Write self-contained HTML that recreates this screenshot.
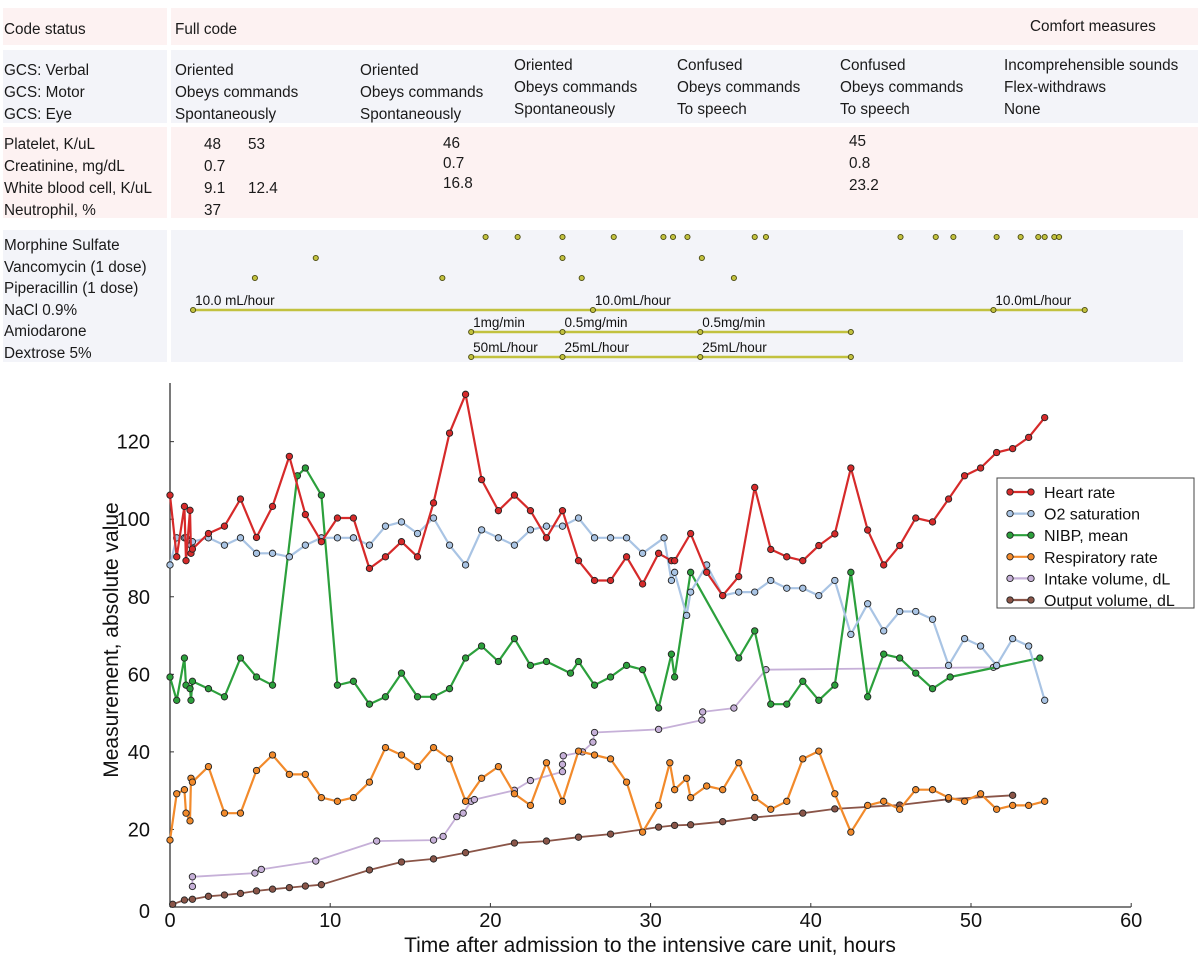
<!DOCTYPE html>
<html><head><meta charset="utf-8"><style>
body{margin:0;background:#fff;font-family:"Liberation Sans",Arial,sans-serif;color:#1a1a1a}
#wrap{position:relative;width:1200px;height:966px;overflow:hidden}
.p{position:absolute}
.t{position:absolute;font-size:15.3px;white-space:nowrap;line-height:22px}
</style></head><body><div id="wrap">
<div class="p" style="left:3px;top:8px;width:164px;height:37px;background:#fdf2f2"></div>
<div class="p" style="left:171px;top:8px;width:1027px;height:37px;background:#fdf2f2"></div>
<div class="p" style="left:3px;top:50px;width:164px;height:73px;background:#f3f4f9"></div>
<div class="p" style="left:171px;top:50px;width:1027px;height:73px;background:#f3f4f9"></div>
<div class="p" style="left:3px;top:127px;width:164px;height:91px;background:#fdf2f2"></div>
<div class="p" style="left:171px;top:127px;width:1027px;height:91px;background:#fdf2f2"></div>
<div class="p" style="left:3px;top:230px;width:164px;height:132px;background:#f3f4f9"></div>
<div class="p" style="left:171px;top:230px;width:1012px;height:132px;background:#f3f4f9"></div>

<div class="t" style="left:4px;top:19px">Code status</div>
<div class="t" style="left:175px;top:19px">Full code</div>
<div class="t" style="left:1030px;top:16px">Comfort measures</div>

<div class="t" style="left:4px;top:60px">GCS: Verbal<br>GCS: Motor<br>GCS: Eye</div>
<div class="t" style="left:175px;top:60px">Oriented<br>Obeys commands<br>Spontaneously</div>
<div class="t" style="left:360px;top:60px">Oriented<br>Obeys commands<br>Spontaneously</div>
<div class="t" style="left:514px;top:55px">Oriented<br>Obeys commands<br>Spontaneously</div>
<div class="t" style="left:677px;top:55px">Confused<br>Obeys commands<br>To speech</div>
<div class="t" style="left:840px;top:55px">Confused<br>Obeys commands<br>To speech</div>
<div class="t" style="left:1004px;top:55px">Incomprehensible sounds<br>Flex-withdraws<br>None</div>

<div class="t" style="left:4px;top:134px">Platelet, K/uL<br>Creatinine, mg/dL<br>White blood cell, K/uL<br>Neutrophil, %</div>
<div class="t" style="left:204px;top:134px">48<br>0.7<br>9.1<br>37</div>
<div class="t" style="left:248px;top:134px">53<br><br>12.4</div>
<div class="t" style="left:443px;top:134px;line-height:20px">46<br>0.7<br>16.8</div>
<div class="t" style="left:849px;top:131px">45<br>0.8<br>23.2</div>

<div class="t" style="left:4px;top:235px;line-height:21.5px">Morphine Sulfate<br>Vancomycin (1 dose)<br>Piperacillin (1 dose)<br>NaCl 0.9%<br>Amiodarone<br>Dextrose 5%</div>

<svg id="chart" class="p" style="left:0;top:0" width="1200" height="966"></svg>
</div>
<script>
const hrX=[0,0.42,0.9,1.0,1.25,1.31,1.4,2.4,3.4,4.4,5.4,6.4,7.45,8.45,9.45,10.45,11.45,12.45,13.45,14.45,15.45,16.45,17.45,18.45,19.45,20.5,21.5,22.5,23.5,24.5,25.5,26.5,27.5,28.5,29.5,30.5,31.3,31.5,32.5,33.5,34.5,35.5,36.5,37.5,38.5,39.5,40.5,41.5,42.5,43.55,44.55,45.55,46.55,47.6,48.6,49.6,50.6,51.6,52.6,53.6,54.6];
const hrY=[106.2,90.3,103.3,89.3,102.3,91.2,92.3,96.3,98.2,105.2,95.3,103.3,116.2,101.2,94.2,100.3,100.3,87.3,90.3,94.2,90.3,104.2,122.2,132.2,110.2,102.2,106.2,102.2,95.2,102.2,89.3,84.2,84.2,90.3,83.3,91.2,89.3,89.3,96.3,86.3,80.3,85.2,108.2,92.2,90.3,89.3,93.2,96.2,113.2,97.2,88.2,93.2,100.3,99.3,105.2,111.2,113.2,117.2,118.2,121.1,126.2];
const o2X=[0,0.42,0.9,1.0,1.25,1.31,1.4,2.4,3.4,4.4,5.4,6.4,7.45,8.45,9.45,10.45,11.45,12.45,13.45,14.45,15.45,16.45,17.45,18.45,19.45,20.5,21.5,22.5,23.5,24.5,25.5,26.5,27.5,28.5,29.5,30.84,31.3,31.5,32.25,32.5,33.5,34.5,35.5,36.5,37.5,38.5,39.5,40.5,41.5,42.5,43.55,44.55,45.55,46.55,47.6,48.6,49.6,50.6,51.6,52.6,53.6,54.6];
const o2Y=[88.2,95.2,95.2,95.2,94.2,93.3,94.2,95.2,93.3,95.2,91.2,91.2,90.3,93.3,95.2,95.2,95.2,93.3,98.2,99.3,96.3,100.3,93.3,88.2,97.25,95.2,93.3,97.25,98.2,98.2,100.3,95.2,95.2,95.2,91.2,95.2,84.2,86.3,75.2,81.2,88.2,80.3,81.2,81.2,84.2,82.2,82.2,80.3,84.2,70.3,78.2,71.2,76.2,76.2,74.2,62.3,69.2,67.3,62.3,69.2,67.3,53.3];
const bpX=[0,0.42,0.9,1.0,1.25,1.31,1.4,2.4,3.4,4.4,5.4,6.4,7.95,8.45,9.45,10.45,11.45,12.45,13.45,14.45,15.45,16.45,17.45,18.45,19.45,20.5,21.5,22.5,23.5,25,25.5,26.5,27.5,28.5,29.5,30.5,31.3,31.5,32.5,35.5,36.5,37.5,38.5,39.5,40.5,41.5,42.5,43.55,44.55,45.55,46.55,47.6,48.7,54.3];
const bpY=[59.3,53.3,64.2,57.2,56.3,53.3,58.2,56.3,54.2,64.2,59.3,57.2,111.2,113.2,106.2,57.2,58.2,52.3,54.2,60.3,54.2,54.2,56.3,64.2,67.3,63.3,69.2,62.3,63.3,60.3,63.3,57.2,59.3,62.3,61.2,51.3,65.2,59.3,86.3,64.2,71.2,52.3,52.3,58.2,53.3,57.2,86.3,54.2,65.2,64.2,60.3,56.3,59.3,64.2];
const rrX=[0,0.42,0.9,1.0,1.25,1.31,1.4,2.4,3.4,4.4,5.4,6.4,7.45,8.45,9.45,10.45,11.45,12.45,13.45,14.45,15.45,16.45,17.45,18.45,19.45,20.5,21.5,22.5,23.5,24.5,25.5,26.5,27.5,28.5,29.5,30.5,31.2,31.5,32.25,32.5,33.5,34.5,35.5,36.5,37.5,38.5,39.5,40.5,41.5,42.5,43.55,44.55,45.55,46.55,47.6,48.6,49.6,50.6,51.6,52.6,53.6,54.6];
const rrY=[17.25,29.2,30.25,24.2,22.2,33.2,32.2,36.2,24.2,24.2,35.2,39.2,34.2,34.2,28.2,27.25,28.2,32.2,41.1,39.2,36.2,41.1,38.2,27.25,33.2,36.2,29.2,26.2,37.2,27.25,40.2,39.2,38.2,32.2,19.3,26.2,37.2,30.25,33.2,28.2,31.2,30.25,37.2,28.2,25.2,27.25,38.2,40.2,29.2,19.3,26.2,27.25,25.2,30.25,30.25,28.2,27.25,29.2,25.2,26.2,26.2,27.25];
const inX=[1.4,1.4,5.3,5.7,9.1,12.9,16.45,17.05,17.9,18.3,18.8,19.0,21.5,22.5,24.5,24.5,24.55,25.75,26.4,26.5,30.5,33.2,33.25,35.2,37.2,51.4,51.6];
const inY=[5.3,7.8,8.75,9.7,11.85,17.0,17.25,18.2,23.3,24.2,27.25,27.7,30.1,32.6,34.9,36.8,39.0,40.0,42.5,45.0,45.8,48.2,50.3,51.3,61.2,61.8,62.2];
const outX=[0.17,0.9,1.4,2.4,3.4,4.4,5.4,6.4,7.45,8.45,9.45,12.45,14.45,16.45,18.45,21.5,23.5,25.5,27.5,30.5,31.5,32.5,34.5,36.5,39.5,41.5,45.55,48.6,52.6];
const outY=[0.7,1.8,2.0,2.75,3.1,3.5,4.15,4.6,5.0,5.4,5.75,9.55,11.6,12.4,14.0,16.5,17.0,18.0,18.8,20.6,21.05,21.2,22.0,23.1,24.2,25.3,26.3,27.8,28.8];
const seriesNames=["Heart rate","O2 saturation","NIBP, mean","Respiratory rate","Intake volume, dL","Output volume, dL"];
const xTicks=[0,10,20,30,40,50,60];
const yTicks=[0,20,40,60,80,100,120];
const morphineT=[19.7,21.7,24.5,27.7,30.8,31.4,32.3,36.5,37.2,45.6,47.8,48.9,51.6,53.1,54.2,54.6,55.2,55.5];
const vancoT=[9.1,24.5,33.2];
const piperaT=[5.3,17.0,25.7,35.2];
const naclT=[1.44,26.4,51.4,57.1];
const naclLabels=["10.0 mL/hour","10.0mL/hour","10.0mL/hour"];
const amioT=[18.8,24.5,33.1,42.5];
const amioLabels=["1mg/min","0.5mg/min","0.5mg/min"];
const dexT=[18.8,24.5,33.1,42.5];
const dexLabels=["50mL/hour","25mL/hour","25mL/hour"];

const NS="http://www.w3.org/2000/svg";
const svg=document.getElementById('chart');
const X0=170,XS=16.02,Y0=907,YS=3.878;
const sx=v=>X0+v*XS, sy=v=>Y0-v*YS;
function mk(tag,attrs,parent){const e=document.createElementNS(NS,tag);for(const k in attrs)e.setAttribute(k,attrs[k]);(parent||svg).appendChild(e);return e;}
function txt(s,attrs){const e=mk('text',attrs);e.textContent=s;return e;}

let a=mk('line',{x1:X0,y1:383,x2:X0,y2:Y0,stroke:'#333','stroke-width':1.3});


a=mk('line',{x1:X0,y1:Y0,x2:1131,y2:Y0,stroke:'#333','stroke-width':1.3});


xTicks.forEach(t=>{
  mk('line',{x1:sx(t),y1:Y0,x2:sx(t),y2:Y0-4,stroke:'#333'});
  const l=txt(String(t),{x:sx(t),y:Y0+20,'text-anchor':'middle','font-size':20,fill:'#111'});
  
  
});
yTicks.forEach(t=>{
  mk('line',{x1:X0,y1:sy(t),x2:X0+4,y2:sy(t),stroke:'#333'});
  const l=txt(String(t),{x:150,y:sy(t)+7+(t===0?4:0),'text-anchor':'end','font-size':20,fill:'#111'});
  
  
});
let xt=txt('Time after admission to the intensive care unit, hours',{x:650,y:952,'text-anchor':'middle','font-size':21,fill:'#111'});


let yt=txt('Measurement, absolute value',{x:0,y:0,'text-anchor':'middle','font-size':21,fill:'#111',transform:'translate(118,640) rotate(-90)'});



const series=[[hrX,hrY,'#d62a2a'],[o2X,o2Y,'#a9c4e4'],[bpX,bpY,'#2ca03c'],[rrX,rrY,'#f28a2b'],[inX,inY,'#c6b0d8'],[outX,outY,'#8a5548']];
const order=[4,5,3,2,1,0];
order.forEach(i=>{
  const [xs,ys,c]=series[i];
  const g=mk('g',{});
  
  
  const pts=xs.map((x,j)=>sx(x).toFixed(1)+','+sy(ys[j]).toFixed(1)).join(' ');
  mk('polyline',{points:pts,fill:'none',stroke:c,'stroke-width':i>=4?1.8:2.2,'stroke-linejoin':'round'},g);
  xs.forEach((x,j)=>{
    const p=mk('circle',{cx:sx(x),cy:sy(ys[j]),r:3.2,fill:c,stroke:'#222','stroke-width':0.9},g);
    
    
  });
});

const lg=mk('g',{});


mk('rect',{x:997,y:478,width:197,height:130,fill:'#fff',stroke:'#444','stroke-width':1},lg);
seriesNames.forEach((n,i)=>{
  const y=492+i*21.6, c=series[i][2];
  const e=mk('g',{},lg);
  
  
  mk('line',{x1:1010,y1:y,x2:1031,y2:y,stroke:c,'stroke-width':2.2},e);
  mk('circle',{cx:1010,cy:y,r:3.2,fill:c,stroke:'#222','stroke-width':0.9},e);
  mk('circle',{cx:1031,cy:y,r:3.2,fill:c,stroke:'#222','stroke-width':0.9},e);
  const t=mk('text',{x:1044,y:y+6,'font-size':16,fill:'#111'},e);t.textContent=n;
});

const MC='#c2c13f';
function dot(t,y,name){const d=mk('circle',{cx:sx(t),cy:y,r:2.6,fill:MC,stroke:'#4a4a10','stroke-width':0.9});}
morphineT.forEach(t=>dot(t,237,'morphine-dose'));
vancoT.forEach(t=>dot(t,258,'vancomycin-dose'));
piperaT.forEach(t=>dot(t,278,'piperacillin-dose'));
function infusion(ts,labels,y,name){
  const l=mk('line',{x1:sx(ts[0]),y1:y,x2:sx(ts[ts.length-1]),y2:y,stroke:MC,'stroke-width':2.5});
  
  
  ts.forEach(t=>dot(t,y,name+'-change'));
  labels.forEach((s,i)=>{const tt=txt(s,{x:sx(ts[i])+2,y:y-5,'font-size':13.5,fill:'#111'});});
}
infusion(naclT,naclLabels,310,'nacl');
infusion(amioT,amioLabels,332,'amiodarone');
infusion(dexT,dexLabels,357,'dextrose');
</script></body></html>
